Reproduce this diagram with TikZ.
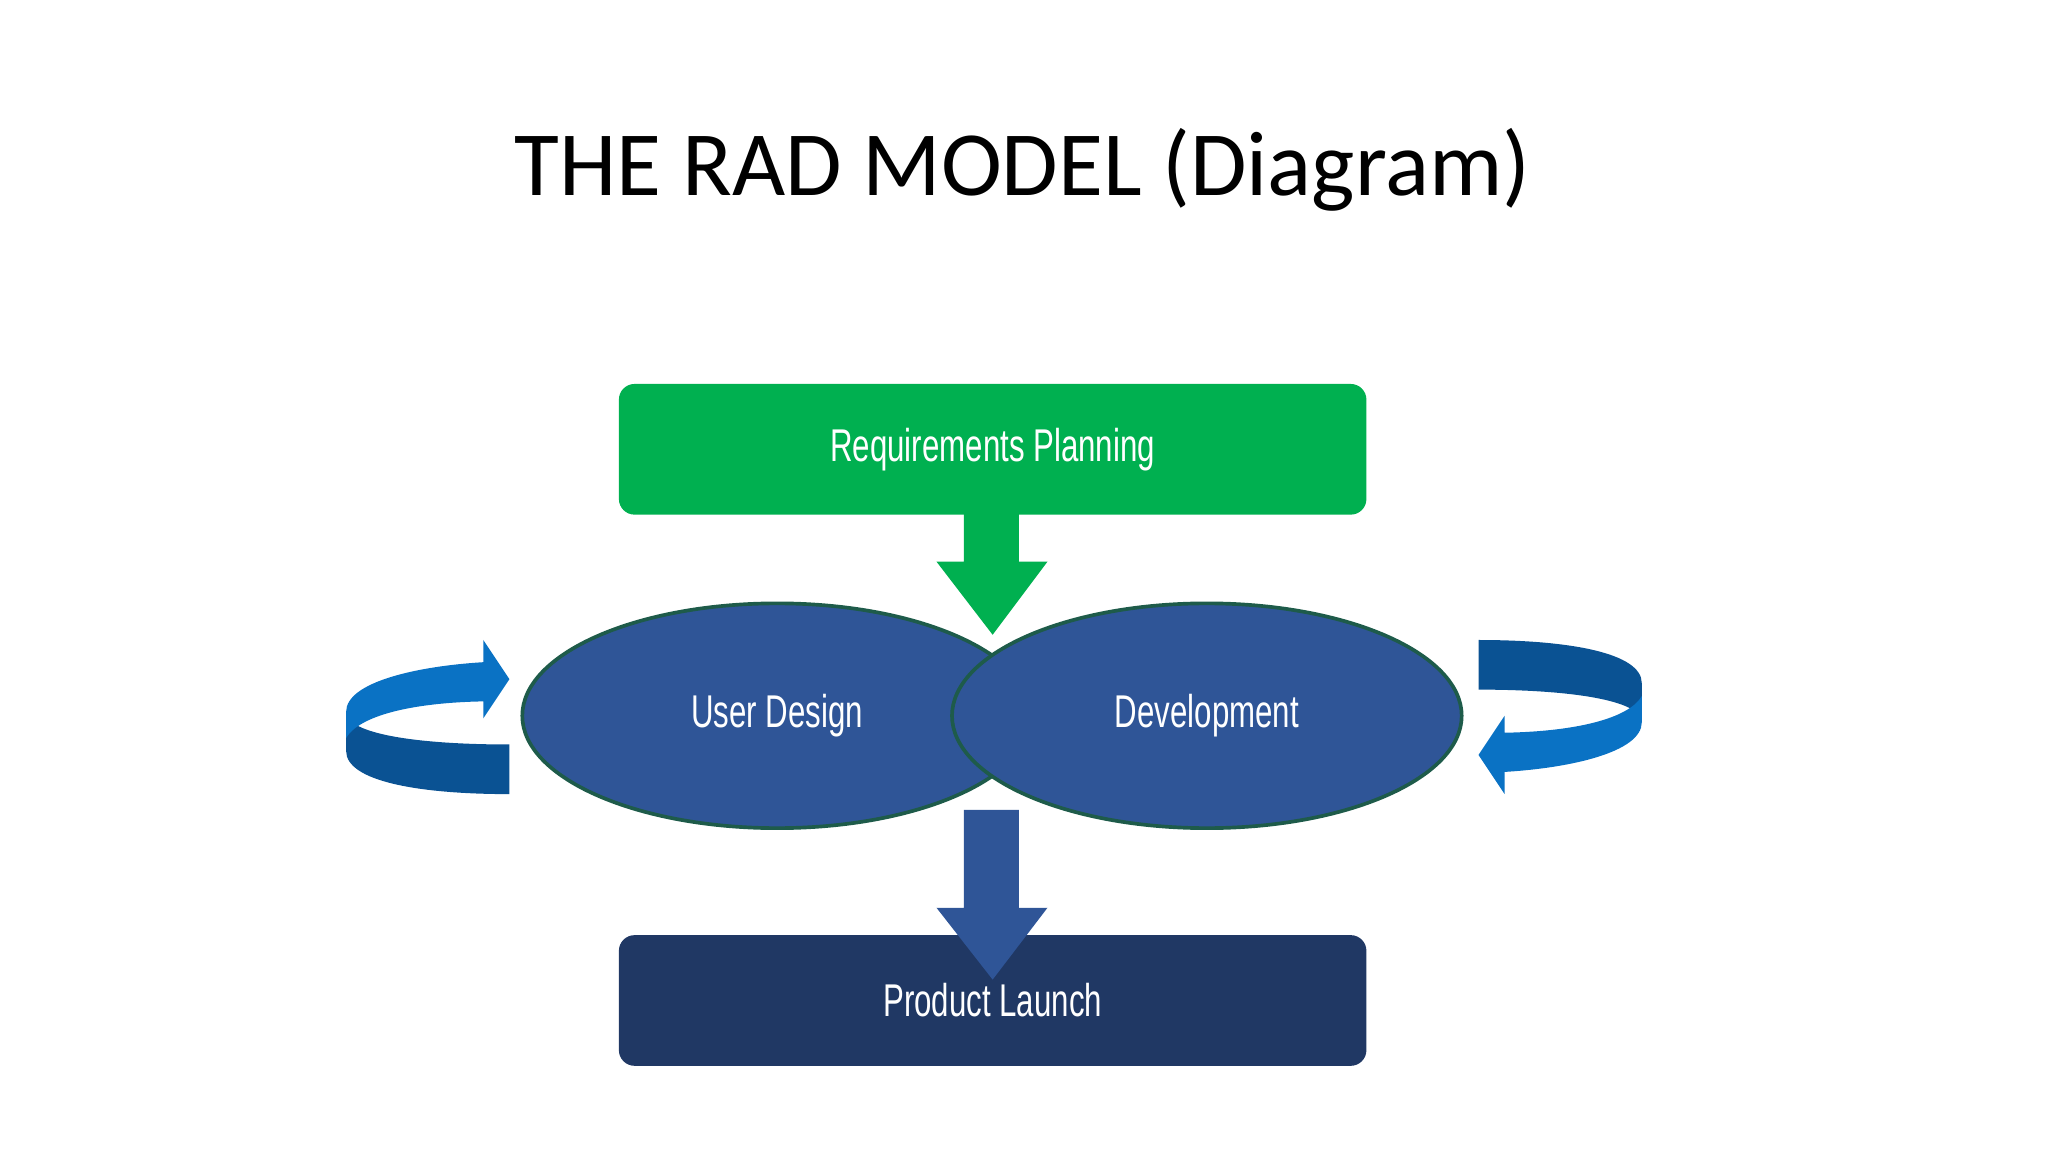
\documentclass[tikz,border=0pt]{standalone}
\usepackage{fontspec}
\setmainfont{Carlito}
\newfontfamily\narrowf{Liberation Sans}[FakeStretch=0.68]
\usetikzlibrary{shapes.geometric}
\definecolor{rgreen}{HTML}{00B050}
\definecolor{rblue}{HTML}{2F5597}
\definecolor{rnavy}{HTML}{203864}
\definecolor{rline}{HTML}{1E5B4A}
\definecolor{cdark}{HTML}{0A5293}
\definecolor{clight}{HTML}{0A72C4}
\tikzset{
 box/.style={rounded corners=0.12cm, minimum width=5.72cm, minimum height=1cm, inner sep=0, text=white, font=\narrowf\fontsize{10}{12}\selectfont},
 ell/.style={ellipse, fill=rblue, draw=rline, line width=0.8pt, minimum width=3.9cm, minimum height=1.72cm, inner sep=0, text=white, font=\narrowf\fontsize{10}{12}\selectfont},
}
\begin{document}
\begin{tikzpicture}[x=0.01cm,y=-0.01cm]
\useasboundingbox (0,0) rectangle (1568,882);
\node[font=\fontsize{20}{24}\selectfont] (title) at (783,130) {THE RAD MODEL (Diagram)};
\node[box, fill=rgreen] (req) at (760,344) {Requirements Planning};
\node[box, fill=rnavy] (launch) at (760,766) {Product Launch};
\node[ell] (ud) at (595,548) {User Design};
\node[ell] (dev) at (924,548) {Development};
% green arrow
\fill[rgreen] (738,392) -- (780,392) -- (780,430) -- (802,430) -- (760,486) -- (717,430) -- (738,430) -- cycle;
% blue arrow
\fill[rblue] (738,620) -- (780,620) -- (780,695) -- (802,695) -- (760,750) -- (717,695) -- (738,695) -- cycle;
% circular arrows
\foreach \r in {0,180}{
\begin{scope}[rotate around={\r:(761,549)}]
\fill[cdark] (390,570) .. controls (320,570) and (265,562) .. (265,545) -- (265,575) .. controls (265,598) and (320,608) .. (390,608) -- cycle;
\fill[clight] (265,545) .. controls (265,522) and (320,510) .. (370,507) -- (370,490) -- (390,520) -- (370,550) -- (370,537) .. controls (315,538) and (275,548) .. (265,565) -- cycle;
\end{scope}}
\end{tikzpicture}
\end{document}
